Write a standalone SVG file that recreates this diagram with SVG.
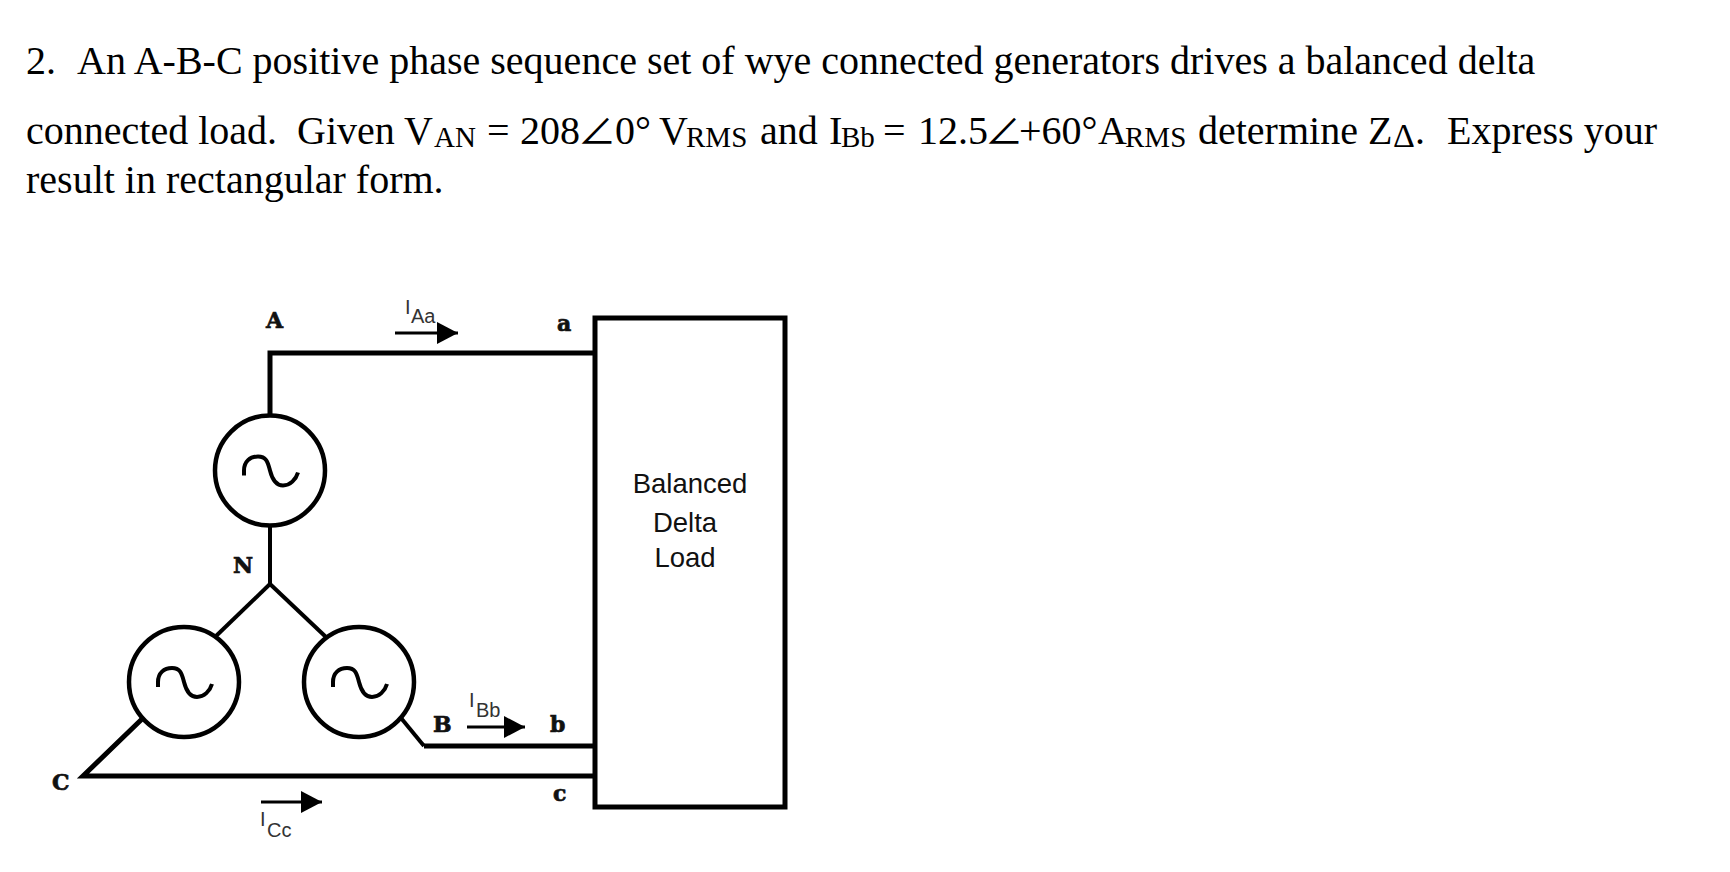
<svg xmlns="http://www.w3.org/2000/svg" width="1730" height="872" viewBox="0 0 1730 872">
<style>
.q{font-family:"Liberation Serif","Times New Roman",serif;font-size:40px;fill:#000;white-space:pre}
.s{font-size:29px}
.d{font-size:34px}
.ang{font-family:"Noto Sans CJK SC","Liberation Serif",serif;font-size:38px}
.w{fill:none;stroke:#000;stroke-width:5}
.t{fill:none;stroke:#000;stroke-width:4}
.gen{fill:#fff;stroke:#000;stroke-width:4.5}
.sine{fill:none;stroke:#000;stroke-width:4}
.ar{fill:none;stroke:#000;stroke-width:3;marker-end:url(#head)}
.lab{font-family:"DejaVu Serif",serif;font-weight:bold;font-size:22px;fill:#111;stroke:#111;stroke-width:.7}
.cur{font-family:"Liberation Sans",Arial,sans-serif;font-size:20px;fill:#333}
.box{font-family:"Liberation Sans",Arial,sans-serif;font-size:27.5px;fill:#111;text-anchor:middle}
</style>
<defs>
<marker id="head" markerUnits="userSpaceOnUse" markerWidth="22" markerHeight="22" refX="21" refY="11" orient="auto"><path d="M0,0L21,11L0,22Z" fill="#000"/></marker>
<path id="sine" d="M-26,5 V0 C-26,-9 -20,-14 -12,-14 C-3,-14 -2,-7 0,0 C2,8 6,15 13,15 C20,15 26,9 28,2"/>
</defs>
<rect width="1730" height="872" fill="#fff"/>
<g id="question">
<text class="q" y="74"><tspan x="26">2.</tspan><tspan x="77">An A-B-C positive phase sequence set of wye connected generators drives a balanced delta</tspan></text>
<text class="q" y="144"><tspan x="26">connected load.  Given V</tspan><tspan class="s" x="434" dy="3">AN</tspan><tspan x="487" dy="-3">=</tspan><tspan x="520">208</tspan><tspan class="ang" x="578">∠</tspan><tspan x="615">0°</tspan><tspan x="659">V</tspan><tspan class="s" x="686" dy="3">RMS</tspan><tspan x="760" dy="-3">and</tspan><tspan x="829">I</tspan><tspan class="s" x="841" dy="3">Bb</tspan><tspan x="883" dy="-3">=</tspan><tspan x="918">12.5</tspan><tspan class="ang" x="985">∠</tspan><tspan x="1019">+60°</tspan><tspan x="1098">A</tspan><tspan class="s" x="1125" dy="3">RMS</tspan><tspan x="1198" dy="-3">determine</tspan><tspan x="1368">Z</tspan><tspan class="d" x="1393" dy="3">Δ</tspan><tspan x="1415" dy="-3">.</tspan><tspan x="1447">Express your</tspan></text>
<text class="q" x="26" y="193">result in rectangular form.</text>
</g>
<g id="connectors">
<path class="w" d="M595,353H270V417"/>
<path class="t" d="M270,523V584"/>
<path class="t" d="M270,584L215,637"/>
<path class="t" d="M270,584L327,638"/>
<path class="w" d="M142,719L83,776H595"/>
<path class="t" d="M401,718L424,746"/>
<path class="w" d="M424,746H595"/>
<path class="ar" d="M395,333H458"/>
<path class="ar" d="M467,727H525"/>
<path class="ar" d="M261,802H322"/>
</g>
<g id="gen-a"><circle class="gen" cx="270" cy="470.5" r="55"/><use href="#sine" class="sine" x="270" y="470.5"/></g>
<g id="gen-c"><circle class="gen" cx="184" cy="682" r="55"/><use href="#sine" class="sine" x="184" y="682"/></g>
<g id="gen-b"><circle class="gen" cx="359" cy="682" r="55"/><use href="#sine" class="sine" x="359" y="682"/></g>
<g id="load">
<rect x="595" y="318" width="190" height="489" fill="none" stroke="#000" stroke-width="5"/>
<text class="box" x="690" y="493">Balanced</text>
<text class="box" x="685" y="532">Delta</text>
<text class="box" x="685" y="567">Load</text>
</g>
<g id="labels">
<text class="lab" x="266" y="328">A</text>
<text class="lab" x="233" y="573">N</text>
<text class="lab" x="52" y="790">C</text>
<text class="lab" x="433" y="732">B</text>
<text class="lab" x="557" y="331">a</text>
<text class="lab" x="550" y="732">b</text>
<text class="lab" x="553" y="801">c</text>
<text class="cur" x="405" y="314">I</text><text class="cur" x="411" y="323">Aa</text>
<text class="cur" x="469" y="707">I</text><text class="cur" x="476" y="717">Bb</text>
<text class="cur" x="260" y="826">I</text><text class="cur" x="267" y="837">Cc</text>
</g>
</svg>
